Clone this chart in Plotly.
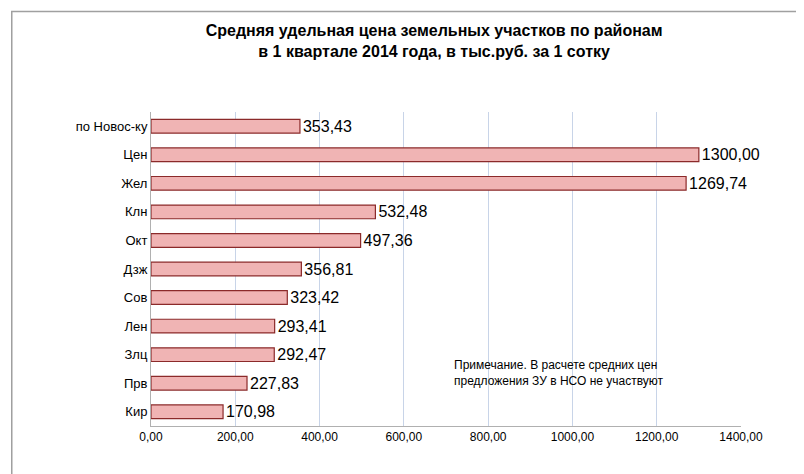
import plotly.graph_objects as go

districts = ["по Новос-ку", "Цен", "Жел", "Клн", "Окт", "Дзж", "Сов", "Лен", "Злц", "Прв", "Кир"]
prices = [353.43, 1300.00, 1269.74, 532.48, 497.36, 356.81, 323.42, 293.41, 292.47, 227.83, 170.98]
labels = [f"{v:.2f}".replace(".", ",") for v in prices]
tick_vals = [0, 200, 400, 600, 800, 1000, 1200, 1400]
tick_text = [f"{v:.2f}".replace(".", ",") for v in tick_vals]

fig = go.Figure()
fig.add_trace(go.Bar(
    x=prices, y=districts, orientation="h",
    marker=dict(color="#f0b4b4", line=dict(color="#8b2a2a", width=1.2)),
    text=labels, textposition="outside", cliponaxis=False, constraintext="none",
    textfont=dict(family="Liberation Sans", size=16, color="black"),
    width=0.48,
))

fig.update_layout(
    width=804, height=474,
    margin=dict(l=143, r=71, t=104, b=56),
    paper_bgcolor="white", plot_bgcolor="white",
    showlegend=False,
    uniformtext=dict(mode=False),
    title=dict(
        text="<b>Средняя удельная цена земельных участков по районам<br>в 1 квартале 2014 года, в тыс.руб. за 1 сотку</b>",
        x=0.53, xanchor="center", y=0.94, yanchor="top",
        font=dict(family="Liberation Sans", size=16, color="black"),
    ),
    xaxis=dict(
        range=[0, 1400], tickvals=tick_vals, ticktext=tick_text,
        showgrid=True, gridcolor="#c8d4e8", zeroline=False,
        showline=True, linecolor="#b0b0b0",
        tickfont=dict(family="Liberation Sans", size=12, color="black"),
    ),
    yaxis=dict(
        categoryorder="array", categoryarray=districts[::-1],
        showline=True, linecolor="#b0b0b0", ticks="",
        tickfont=dict(family="Liberation Sans", size=13, color="black"),
    ),
    annotations=[dict(
        text="Примечание. В расчете средних цен<br>предложения ЗУ в НСО не участвуют",
        xref="paper", yref="paper", x=0.51, y=0.17, xanchor="left", yanchor="middle",
        align="left", showarrow=False,
        font=dict(family="Liberation Sans", size=12, color="black"),
    )],
    shapes=[dict(
        type="rect", xref="paper", yref="paper",
        x0=-0.236, x1=1.112, y0=-0.162, y1=1.32,
        line=dict(color="#a0a0a0", width=1.5),
    )],
)

fig.write_html("out.html")
